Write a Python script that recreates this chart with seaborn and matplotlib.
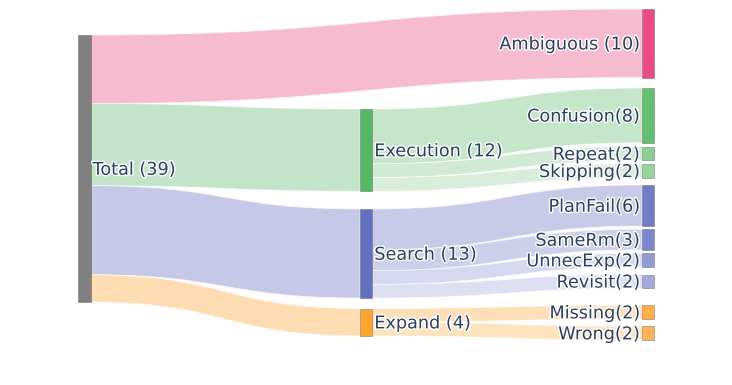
import matplotlib
matplotlib.use("Agg")
import matplotlib.pyplot as plt
import seaborn as sns
from matplotlib.path import Path
from matplotlib.patches import PathPatch, Rectangle
import matplotlib.patheffects as pe

# ---------------- data ----------------
node_labels = ["Total (39)", "Ambiguous (10)", "Execution (12)", "Search (13)", "Expand (4)",
               "Confusion(8)", "Repeat(2)", "Skipping(2)",
               "PlanFail(6)", "SameRm(3)", "UnnecExp(2)", "Revisit(2)",
               "Missing(2)", "Wrong(2)"]
link_source = [0, 0, 0, 0, 2, 2, 2, 3, 3, 3, 3, 4, 4]
link_target = [1, 2, 3, 4, 5, 6, 7, 8, 9, 10, 11, 12, 13]
link_value = [10, 12, 13, 4, 8, 2, 2, 6, 3, 2, 2, 2, 2]

# ---------------- styles / layout ----------------
node_colors = ["#808080", "#EC4C86", "#55B764", "#6470C0", "#FFA331",
               "#66BF70", "#8DD095", "#97D49E",
               "#717CC6", "#7C86CB", "#939BD5", "#A4ABDC",
               "#FFAE4A", "#FFB258"]
link_colors = ["#F7BBD0", "#C3E4C8", "#C5C9E7", "#FEDDB3",
               "#C6E6CA", "#D0EAD3", "#D8EEDB",
               "#C7CBE8", "#CDD0EA", "#D5D8EE", "#DDDFF2",
               "#FEDFB7", "#FEE3BF"]
node_col = [0, 2, 1, 1, 1, 2, 2, 2, 2, 2, 2, 2, 2, 2]
col_x = [78.3, 360.0, 642.0]
node_w = 12.3
node_top = [35.0, 9.0, 109.0, 209.0, 308.5, 88.0, 146.7, 164.0,
            185.0, 229.3, 253.3, 274.5, 305.3, 326.3]
px_per_unit = 6.85

sns.set_style("white")
fig = plt.figure(figsize=(7.32, 3.85), dpi=100)
ax = fig.add_axes([0, 0, 1, 1])
ax.set_xlim(0, 732)
ax.set_ylim(385, 0)
ax.axis("off")

n = len(node_labels)
node_val = [0.0] * n
out_v = [0.0] * n
in_v = [0.0] * n
for s, t, v in zip(link_source, link_target, link_value):
    out_v[s] += v
    in_v[t] += v
for i in range(n):
    node_val[i] = max(out_v[i], in_v[i])

# link offsets
out_off = [0.0] * n
in_off = [0.0] * n
order = sorted(range(len(link_value)), key=lambda k: (link_source[k], node_top[link_target[k]]))
link_geo = {}
for k in order:
    s = link_source[k]
    h = link_value[k] * px_per_unit
    link_geo[k] = [node_top[s] + out_off[s], h]
    out_off[s] += h
order_t = sorted(range(len(link_value)), key=lambda k: (link_target[k], node_top[link_source[k]]))
for k in order_t:
    t = link_target[k]
    h = link_value[k] * px_per_unit
    link_geo[k].append(node_top[t] + in_off[t])
    in_off[t] += h

for k in range(len(link_value)):
    s, t = link_source[k], link_target[k]
    y0, h, y1 = link_geo[k]
    x0 = col_x[node_col[s]] + node_w
    x1 = col_x[node_col[t]]
    xm = (x0 + x1) / 2
    verts = [(x0, y0), (xm, y0), (xm, y1), (x1, y1),
             (x1, y1 + h), (xm, y1 + h), (xm, y0 + h), (x0, y0 + h), (x0, y0)]
    codes = [Path.MOVETO, Path.CURVE4, Path.CURVE4, Path.CURVE4,
             Path.LINETO, Path.CURVE4, Path.CURVE4, Path.CURVE4, Path.CLOSEPOLY]
    ax.add_patch(PathPatch(Path(verts, codes), facecolor=link_colors[k],
                           edgecolor=(1, 1, 1, 0.6), linewidth=0.6, zorder=1))

for i in range(n):
    x = col_x[node_col[i]]
    h = node_val[i] * px_per_unit
    ax.add_patch(Rectangle((x, node_top[i]), node_w, h, facecolor=node_colors[i],
                           edgecolor=(0.27, 0.27, 0.27, 0.5), linewidth=0.5, zorder=3))
    cy = node_top[i] + h / 2 + 1.2
    halo = [pe.withStroke(linewidth=2.0, foreground="white")]
    if node_col[i] == 2:
        ax.text(x - 2, cy, node_labels[i], ha="right", va="center", fontsize=12.7,
                color="#2A3F5F", path_effects=halo, zorder=4)
    else:
        ax.text(x + node_w + 2, cy, node_labels[i], ha="left", va="center", fontsize=12.7,
                color="#2A3F5F", path_effects=halo, zorder=4)

fig.savefig("out.png", dpi=100)
